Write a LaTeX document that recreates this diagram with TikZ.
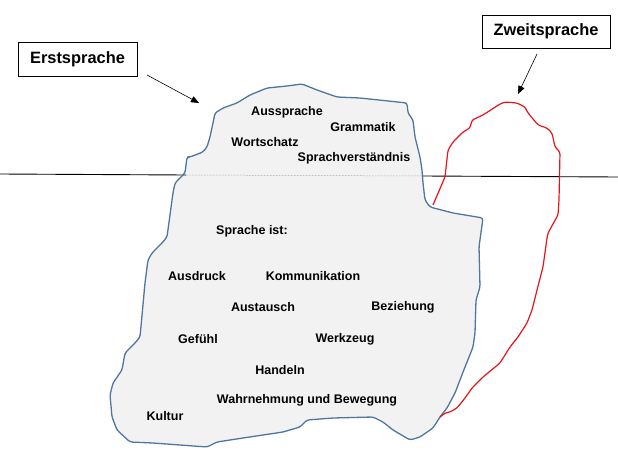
\documentclass[tikz,border=0pt]{standalone}
\usepackage{fontspec}
\setmainfont{Liberation Sans}
\usetikzlibrary{arrows.meta}
\definecolor{outlineblue}{HTML}{4F76A0}
\definecolor{shapefill}{HTML}{F2F2F2}
\definecolor{redline}{HTML}{E8141B}
\tikzset{
  lbl/.style={font=\fontsize{12.5}{14}\selectfont\bfseries, inner sep=0pt},
  boxlbl/.style={draw=black, line width=0.8pt, font=\fontsize{16.4}{19}\selectfont\bfseries, inner sep=0pt, minimum height=34pt},
  pointer/.style={line width=0.6pt, -{Triangle[length=8pt,width=6.5pt]}},
  wobbly/.style={rounded corners=2.5pt, line join=round},
}
\begin{document}
\begin{tikzpicture}[x=1pt,y=-1pt]
\useasboundingbox (0,0) rectangle (618,460);
\def\erstpath{(215,113) -- (223,108) -- (237,103) -- (250,95) -- (267,88) -- (287,86) -- (302,84) -- (317,90) -- (337,97) -- (360,98) -- (407,103) -- (408,113) -- (413,120) -- (415,137) -- (420,157) -- (422,170) -- (423,183) -- (425,200) -- (430,207) -- (453,213) -- (483,218) -- (479,247) -- (480,287) -- (476,300) -- (475,333) -- (473,347) -- (465,367) -- (455,393) -- (447,408) -- (440,417) -- (433,428) -- (420,437) -- (410,440) -- (393,430) -- (383,422) -- (373,417) -- (333,418) -- (307,420) -- (300,427) -- (283,432) -- (243,438) -- (217,442) -- (207,447) -- (153,443) -- (130,442) -- (117,430) -- (112,417) -- (110,395) -- (113,383) -- (122,370) -- (125,353) -- (135,343) -- (140,337) -- (145,283) -- (148,260) -- (152,253) -- (162,243) -- (167,237) -- (173,193) -- (175,183) -- (185,173) -- (187,157) -- (190,157) -- (203,152) -- (207,147) -- (210,137) -- (213,123) -- cycle}
% first language shape (fill)
\fill[shapefill, wobbly] \erstpath;
% water line
\coordinate (wl1) at (0,174);
\coordinate (wl2) at (186,175);
\coordinate (wl3) at (423,176);
\coordinate (wl4) at (618,177);
\draw[line width=0.9pt] (wl1) -- (wl2);
\draw[gray, densely dotted, line width=0.5pt] (wl2) -- (wl3);
\draw[line width=0.9pt] (wl3) -- (wl4);
% first language outline
\draw[outlineblue, line width=1.3pt, wobbly] \erstpath;
% second language outline
\draw[redline, line width=1.2pt, wobbly] (433,205) -- (445,177) -- (448,150) -- (453,142) -- (463,132) -- (470,128) -- (472,120) -- (483,115) -- (500,104) -- (505,102) -- (517,103) -- (525,107) -- (528,113) -- (538,125) -- (547,128) -- (552,133) -- (555,147) -- (560,152) -- (559,200) -- (558,215) -- (548,233) -- (547,238) -- (543,267) -- (537,290) -- (532,310) -- (527,323) -- (518,337) -- (510,347) -- (500,363) -- (483,377) -- (472,388) -- (465,398) -- (457,408) -- (450,412) -- (445,413) -- (440,417);
% labels
\node[boxlbl, minimum width=119pt] (erst) at (77.5,59) {Erstsprache};
\node[boxlbl, minimum width=128pt, minimum height=33pt] (zweit) at (546,31.5) {Zweitsprache};
\coordinate (erstStart) at (147,75);
\coordinate (erstTip) at (199,103);
\coordinate (zweitStart) at (537,54);
\coordinate (zweitTip) at (518,94);
\draw[pointer] (erstStart) -- (erstTip);
\draw[pointer] (zweitStart) -- (zweitTip);
% words
\node[lbl] (aus) at (287,112) {Aussprache};
\node[lbl] (gram) at (363,127) {Grammatik};
\node[lbl] (wort) at (265,142) {Wortschatz};
\node[lbl] (verst) at (354,158) {Sprachverständnis};
\node[lbl] (ist) at (252,231) {Sprache ist:};
\node[lbl] (ausd) at (197,276) {Ausdruck};
\node[lbl] (komm) at (313,276) {Kommunikation};
\node[lbl] (tausch) at (263,307) {Austausch};
\node[lbl] (bez) at (403,307) {Beziehung};
\node[lbl] (gef) at (198,339) {Gefühl};
\node[lbl] (werk) at (345,339) {Werkzeug};
\node[lbl] (hand) at (280,370) {Handeln};
\node[lbl] (wahr) at (307,400) {Wahrnehmung und Bewegung};
\node[lbl] (kult) at (165,416) {Kultur};
\end{tikzpicture}
\end{document}
